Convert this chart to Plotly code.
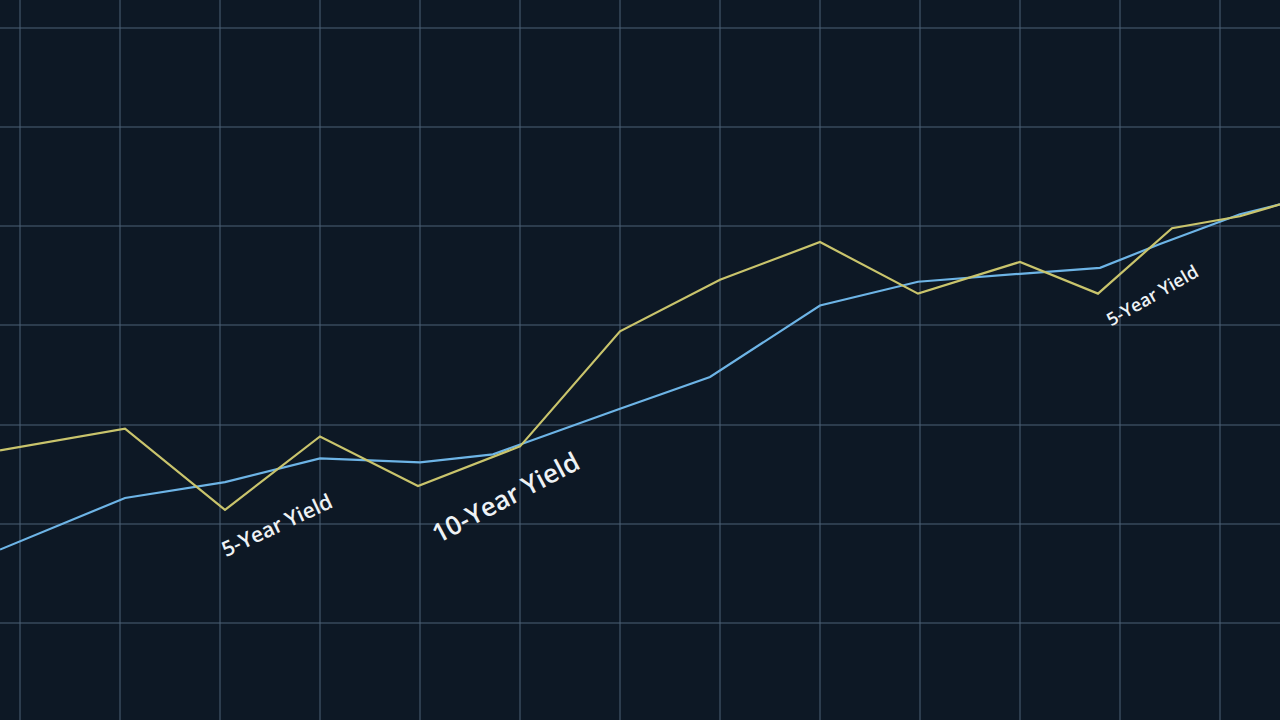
import plotly.graph_objects as go

# Period index (grid units) and yields (%)
x_10y = [-0.2, 1.05, 2.05, 3.0, 3.98, 5.0, 6.0, 7.0, 8.0, 8.98, 10.0, 10.78, 11.52, 12.2, 12.6]
y_10y = [1.87, 1.98, 1.57, 1.94, 1.69, 1.89, 2.47, 2.73, 2.92, 2.66, 2.82, 2.66, 2.99, 3.05, 3.11]

x_5y = [-0.2, 1.05, 2.05, 3.0, 4.0, 4.73, 6.0, 6.9, 8.0, 8.98, 10.0, 10.8, 11.4, 12.2, 12.6]
y_5y = [1.37, 1.63, 1.71, 1.83, 1.81, 1.85, 2.08, 2.24, 2.60, 2.72, 2.76, 2.79, 2.91, 3.06, 3.11]

labels = ["5-Year Yield", "10-Year Yield", "5-Year Yield"]
label_x = [2.56, 4.85, 11.32]
label_y = [1.494, 1.635, 2.653]
label_angle = [-25, -28, -30]
label_size = [21, 26, 18]

fig = go.Figure()
fig.add_trace(go.Scatter(x=x_5y, y=y_5y, mode="lines",
                         line=dict(color="#6db4e6", width=2.2), name="5-Year Yield"))
fig.add_trace(go.Scatter(x=x_10y, y=y_10y, mode="lines",
                         line=dict(color="#c9c46c", width=2.2), name="10-Year Yield"))

for t, ax_, ay_, ang, sz in zip(labels, label_x, label_y, label_angle, label_size):
    fig.add_annotation(x=ax_, y=ay_, text=t, showarrow=False, textangle=ang,
                       font=dict(family="Open Sans, sans-serif", size=sz, color="#eef2f5",
                                 weight=600),
                       xanchor="center", yanchor="middle")

fig.update_layout(
    width=1280, height=720,
    margin=dict(l=0, r=0, t=0, b=0),
    paper_bgcolor="#0d1825", plot_bgcolor="#0d1825",
    showlegend=False,
    xaxis=dict(range=[-0.2, 12.6], tick0=0, dtick=1, showgrid=True,
               gridcolor="rgba(75,95,118,0.5)", gridwidth=2,
               showticklabels=False, zeroline=False, showline=False),
    yaxis=dict(range=[0.511, 4.14], tick0=1.0, dtick=0.5, showgrid=True,
               gridcolor="rgba(75,95,118,0.5)", gridwidth=2,
               showticklabels=False, zeroline=False, showline=False),
)

fig.write_html("out.html", config={"displayModeBar": False},
               post_script="document.body.style.margin='0';document.body.style.background='#0d1825';")
